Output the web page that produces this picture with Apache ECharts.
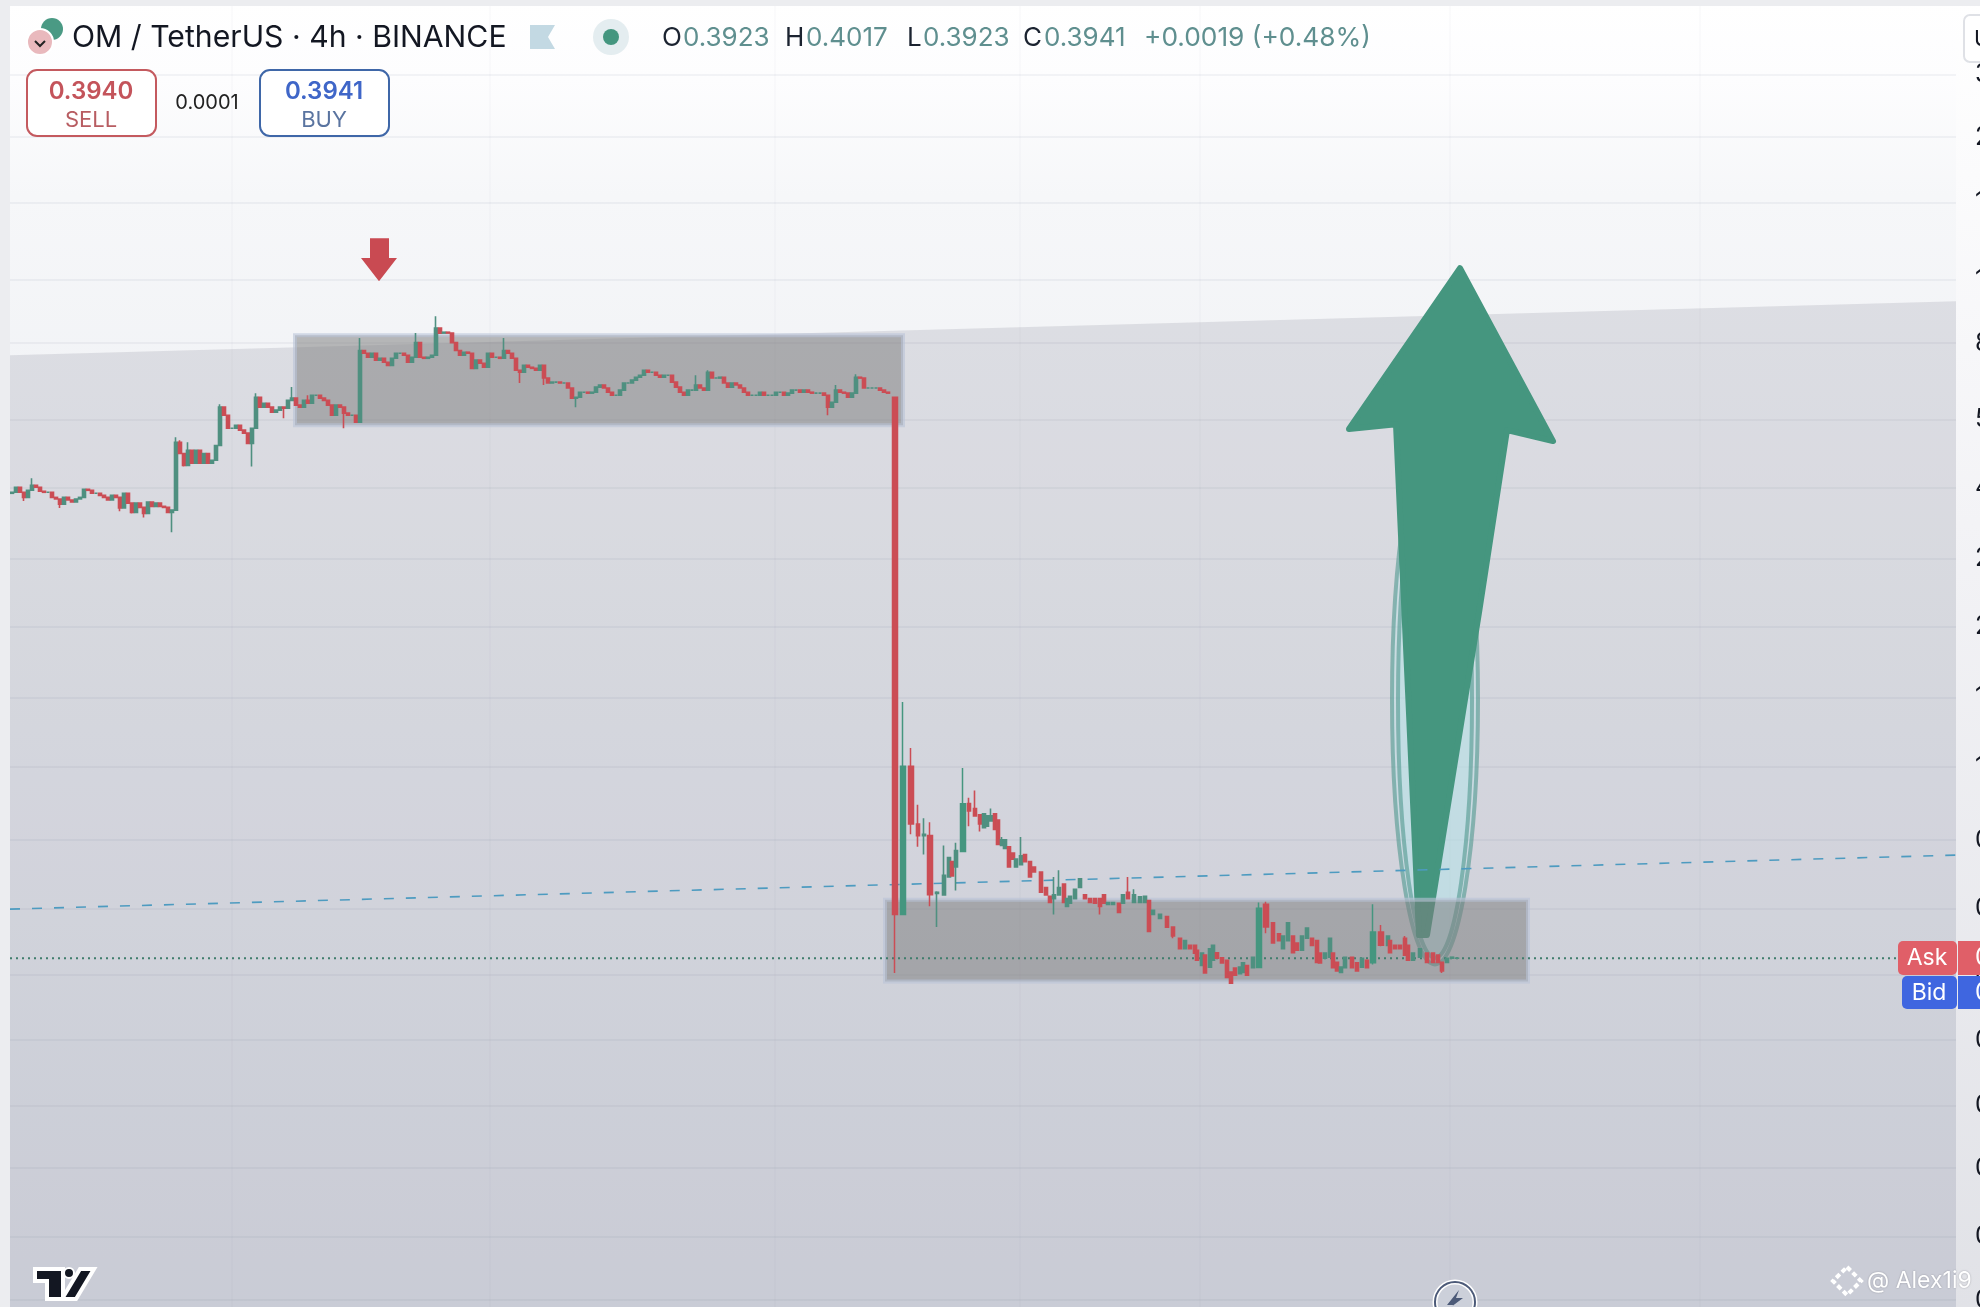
<!DOCTYPE html>
<html><head><meta charset="utf-8">
<style>html,body{margin:0;padding:0;background:#fff}#c{width:1980px;height:1307px}</style>
<script src="https://cdn.jsdelivr.net/npm/echarts@6/dist/echarts.min.js"></script>
</head><body><div id="c"></div>
<script>
// ---- values ----
const priceTicks=[31.9,23.4,16.9,11.5,8.4,5.75,4.1,2.88,2.05,1.44,1.02,0.709,0.505,0.362,0.262,0.189,0.1386,0.0988,0.0719];
const clockTicks=[232,490,775,1020,1200,1450,1700];
const firstClose=3.98;
// thin pre-crash candles, one every 4 clock units starting at 12
const thinClose=[4.00,4.10,4.00,3.90,4.04,4.14,4.10,4.02,4.00,4.00,3.90,3.87,3.77,3.90,3.85,3.81,3.87,3.90,4.06,4.04,3.98,3.98,3.94,3.90,3.85,3.94,3.90,3.70,3.98,3.79,3.62,3.79,3.71,3.60,3.81,3.73,3.79,3.73,3.71,3.62,3.66,5.13,
4.85,4.57,4.93,4.62,4.93,4.62,4.85,4.62,4.69,5.05,
6.11,5.87,5.50,5.50,5.58,5.45,5.37,5.10,5.50,6.42,6.11,6.23,6.11,5.96,6.02,6.11,6.08,6.32,6.39,6.17,6.11,6.32,6.23,6.48,6.48,6.39,6.32,6.17,5.87,6.17,6.11,5.93,5.87,5.87,5.67,8.10,7.99,7.83,7.99,7.72,7.79,7.64,7.52,7.79,7.99,7.99,7.91,7.64,7.83,8.42,7.83,7.79,7.83,7.91,9.05,8.83,8.87,8.83,8.42,8.10,7.91,8.03,7.99,7.41,7.72,7.60,7.45,7.99,7.83,7.83,7.79,8.10,7.99,7.79,7.34,7.27,7.52,7.45,7.41,7.34,7.52,7.06,6.89,6.92,6.92,6.89,6.89,6.72,6.39,6.42,6.58,6.58,6.55,6.58,6.75,6.82,6.72,6.58,6.48,6.48,6.65,6.89,6.89,6.99,7.09,7.16,7.34,7.27,7.27,7.16,7.09,7.16,7.16,6.92,6.75,6.58,6.48,6.65,6.65,6.82,6.72,6.65,7.27,7.06,7.06,7.09,6.89,6.75,6.89,6.82,6.72,6.58,6.48,6.48,6.48,6.58,6.48,6.48,6.48,6.58,6.58,6.48,6.55,6.65,6.65,6.58,6.65,6.58,6.55,6.55,6.55,6.48,6.11,6.26,6.65,6.58,6.55,6.42,6.55,7.09,7.06,6.72,6.72,6.72,6.72,6.65,6.58,6.55];
const thinHigh={32:4.29,176:5.26,180:5.18,188:5.13,220:6.20,256:6.55,292:6.75,308:6.48,360:8.62,416:8.83,436:9.6,504:8.62,696:7.16,708:7.34,836:6.82,856:7.2};
const thinLow={24:3.83,60:3.70,120:3.64,132:3.6,144:3.53,172:3.28,184:4.55,252:4.55,284:5.78,344:5.50,520:6.89,544:6.82,576:6.11,828:5.87};
// wide candles around the crash
const bigClock=[895,903,911,930,963,1259,1266,1373,1381];
const bigOpen=[6.42,0.49,1.024,0.725,0.67,0.376,0.515,0.385,0.449];
const bigClose=[0.49,1.024,0.768,0.54,0.85,0.505,0.46,0.449,0.42];
const bigLow=[0.366,0.488,0.73,0.51,0.67,0.376,0.446,0.382,0.418];
const bigHigh=[6.42,1.41,1.121,0.775,1.015,0.52,0.522,0.515,0.465];
// medium candles after the crash
const midClock=[918,924,937,944,949,952,956,969,975,980,984,987,991,995,998,1002,1005,1009,1013,1016,1021,1025,1030,1034,1041,1046,1050,1054,1059,1064,1067,1070,1075,1080,1085,1090,1095,1100,1104,1108,1113,1119,1123,1128,1134,1140,1145,1149,1153,1160,1167,1173,1180,1185,1190,1195,1197,1202,1205,1210,1213,1217,1222,1227,1231,1235,1240,1243,1247,1253,1273,1279,1283,1288,1293,1297,1302,1307,1312,1317,1320,1325,1330,1333,1337,1341,1345,1352,1357,1362,1367,1388,1390,1395,1400,1405,1408,1413,1420,1427,1433,1438,1442,1447,1452,1457];
const midOpen=[0.768,0.725,0.544,0.54,0.59,0.637,0.62,0.85,0.83,0.804,0.754,0.76,0.78,0.808,0.783,0.69,0.68,0.686,0.665,0.62,0.627,0.66,0.637,0.62,0.605,0.56,0.536,0.53,0.54,0.57,0.51,0.518,0.53,0.56,0.54,0.53,0.53,0.53,0.54,0.515,0.515,0.518,0.518,0.547,0.52,0.52,0.52,0.525,0.49,0.48,0.485,0.46,0.435,0.413,0.42,0.42,0.41,0.38,0.40,0.377,0.39,0.405,0.395,0.39,0.368,0.375,0.365,0.367,0.38,0.376,0.47,0.445,0.413,0.43,0.44,0.425,0.41,0.435,0.435,0.43,0.404,0.394,0.396,0.404,0.386,0.367,0.376,0.396,0.385,0.377,0.39,0.42,0.43,0.42,0.42,0.435,0.42,0.39,0.396,0.404,0.404,0.40,0.386,0.386,0.394,0.394];
const midClose=[0.725,0.73,0.547,0.595,0.65,0.593,0.673,0.82,0.80,0.768,0.808,0.80,0.80,0.748,0.694,0.71,0.71,0.62,0.645,0.645,0.656,0.637,0.59,0.605,0.547,0.54,0.52,0.54,0.56,0.52,0.53,0.536,0.555,0.585,0.53,0.52,0.518,0.51,0.518,0.52,0.52,0.495,0.54,0.53,0.54,0.535,0.536,0.45,0.50,0.49,0.46,0.44,0.413,0.43,0.413,0.404,0.39,0.404,0.366,0.413,0.42,0.394,0.385,0.358,0.348,0.362,0.377,0.385,0.362,0.396,0.425,0.43,0.44,0.47,0.405,0.41,0.44,0.458,0.42,0.386,0.385,0.404,0.435,0.376,0.37,0.377,0.396,0.376,0.37,0.394,0.376,0.44,0.405,0.413,0.413,0.40,0.39,0.404,0.413,0.386,0.386,0.386,0.37,0.394,0.396,0.3941];
const midHigh={918:0.845,924:0.79,937:0.55,944:0.69,956:0.70,969:0.875,975:0.907,991:0.83,1002:0.72,1021:0.72,1054:0.59,1059:0.61,1128:0.59,1134:0.555,1405:0.44};
const midLow={918:0.686,924:0.66,937:0.46,956:0.552,969:0.76,980:0.74,1054:0.49,1100:0.49,1173:0.435,1442:0.366};
// drawn annotations, in clock / price
const channelClock=[10,1956,1956,10];
const channelPrice=[7.91,10.35,0.0695,0.0695];
const upArrowClock=[1460,1553,1507,1479,1427,1419,1396,1349];
const upArrowPrice=[12.2,5.16,5.45,2.20,0.442,0.442,5.61,5.48];
const downArrowClock=[370,389,389,397,379,361,370];
const downArrowPrice=[14.15,14.15,12.83,12.83,11.43,12.83,12.83];
const zoneRows=[[295,903,8.74,5.58],[885,1528,0.527,0.351]];
const ovalRows=[[1392,1478,5.34,0.382],[1398,1472,5.1,0.395]];
const trendClock=[10,1956];
const trendPrice=[0.503,0.658];
const lastClock=[10,1897];
const lastPrice=[0.394,0.394];

// ---- build ----
const GREEN='#45967f',RED='#cb4d55',THINGREEN='#4f9080';
function thinRows(){let o=firstClose;return thinClose.map((c,i)=>{const x=12+4*i;const r=[x,o,c,thinLow[x]??Math.min(o,c),thinHigh[x]??Math.max(o,c)];o=c;return r;});}
const bigRows=bigClock.map((x,i)=>[x,bigOpen[i],bigClose[i],bigLow[i],bigHigh[i]]);
const midRows=midClock.map((x,i)=>[x,midOpen[i],midClose[i],midLow[x]??Math.min(midOpen[i],midClose[i]),midHigh[x]??Math.max(midOpen[i],midClose[i])]);
function polySeries(name,xs,ys,z,style){return{type:'custom',name,z,silent:true,clip:true,data:xs.map((x,i)=>[x,ys[i]]),
  renderItem(p,api){if(p.dataIndex!==0)return null;return{type:'polygon',shape:{points:xs.map((x,i)=>api.coord([x,ys[i]]))},style};}};}
function candle(name,rows,w,bw,gc,rc,z){return{type:'candlestick',name,z,barWidth:w,data:rows,silent:true,encode:{x:0,y:[1,2,3,4]},itemStyle:{color:gc,color0:rc,borderColor:gc,borderColor0:rc,borderWidth:bw}};}
const chart=echarts.init(document.getElementById('c'),null,{width:1980,height:1307});
const vGrad=(stops)=>({type:'linear',x:0,y:0,x2:0,y2:1,colorStops:stops});
const F='Inter, sans-serif';
function t(x,y,text,size,fill,extra){return{type:'text',z:100,x,y,style:Object.assign({text,fontFamily:F,fontSize:size,fill,textVerticalAlign:'middle',verticalAlign:'middle'},extra||{})};}
function r(x,y,w,h,fill,extra,rad){return{type:'rect',z:90,shape:{x,y,width:w,height:h,r:rad||0},style:Object.assign({fill},extra||{})};}
chart.setOption({
 animation:false,
 backgroundColor:vGrad([{offset:0,color:'#ffffff'},{offset:.4,color:'#f3f3f6'},{offset:1,color:'#e1e2e7'}]),
 grid:{left:10,right:24,top:0,bottom:0,outerBoundsMode:'none',show:true,borderWidth:0,backgroundColor:vGrad([{offset:0,color:'#ffffff'},{offset:.06,color:'#fdfdfe'},{offset:.15,color:'#f6f7f9'},{offset:1,color:'#dde0e8'}])},
 xAxis:{type:'value',min:10,max:1956,axisLine:{show:false},axisLabel:{show:false},axisTick:{show:false,customValues:clockTicks},splitLine:{show:true,lineStyle:{color:'rgba(120,130,150,.03)',width:2}}},
 yAxis:{type:'log',logBase:10,min:0.0695,max:46.3,position:'right',axisLine:{show:false},axisTick:{show:false,customValues:priceTicks},
  splitLine:{show:true,lineStyle:{color:'rgba(120,130,150,.08)',width:2}},
  axisLabel:{customValues:priceTicks,inside:false,margin:19,align:'left',color:'#131722',fontSize:25,fontFamily:F,formatter:v=>String(v)[0]}},
 series:[
  polySeries('channel',channelClock,channelPrice,1,{fill:'rgba(70,70,90,.13)'}),
  {type:'custom',name:'oval',z:2,silent:true,clip:true,data:ovalRows,renderItem(p,api){const v=[0,1,2,3].map(i=>api.value(i));const a=api.coord([v[0],v[2]]),b=api.coord([v[1],v[3]]);
    return{type:'ellipse',shape:{cx:(a[0]+b[0])/2,cy:(a[1]+b[1])/2,rx:(b[0]-a[0])/2,ry:(b[1]-a[1])/2},style:{fill:'rgba(185,226,232,.38)',stroke:'rgba(70,145,135,.55)',lineWidth:4}};}},
  polySeries('target arrow',upArrowClock,upArrowPrice,3,{fill:GREEN,stroke:GREEN,lineWidth:6,lineJoin:'round'}),
  {type:'custom',name:'zones',z:4,silent:true,clip:true,data:zoneRows,renderItem(p,api){const a=api.coord([api.value(0),api.value(2)]),b=api.coord([api.value(1),api.value(3)]);
    return{type:'rect',shape:{x:a[0],y:a[1],width:b[0]-a[0],height:b[1]-a[1]},style:{fill:'rgba(125,125,125,.52)',stroke:'rgba(185,195,215,.6)',lineWidth:4}};}},
  {type:'line',name:'trend',z:4,silent:true,symbol:'none',data:trendClock.map((x,i)=>[x,trendPrice[i]]),lineStyle:{color:'#4d9bc0',width:1.6,type:[10,12]}},
  {type:'line',name:'last',z:4,silent:true,symbol:'none',data:lastClock.map((x,i)=>[x,lastPrice[i]]),lineStyle:{color:'#3f7d6c',width:2,type:[2,4]}},
  candle('OM thin',thinRows(),3,1.6,THINGREEN,RED,5),
  candle('OM mid',midRows,3,1.6,THINGREEN,RED,5),
  candle('OM big',bigRows,6,1.5,GREEN,RED,6),
  polySeries('sell arrow',downArrowClock,downArrowPrice,7,{fill:'#c94a52'})
 ],
 graphic:[
  r(0,0,10,1307,'#ecedf0'),r(0,0,1980,6,'#ecedf0'),
  {type:'circle',z:95,shape:{cx:52,cy:29,r:11},style:{fill:'#4a9a84'}},
  {type:'circle',z:96,shape:{cx:40,cy:42,r:13},style:{fill:'#e9b9bd',stroke:'#fff',lineWidth:2}},
  {type:'polyline',z:97,shape:{points:[[35,41],[40,46],[45,41]]},style:{stroke:'#222',fill:null,lineWidth:2}},
  t(72,38,'OM / TetherUS · 4h · BINANCE',30.2,'#131722'),
  {type:'polygon',z:95,shape:{points:[[530,25],[555,25],[548,37],[555,49],[530,49]]},style:{fill:'#c3d9e3'}},
  {type:'circle',z:95,shape:{cx:611,cy:37,r:18},style:{fill:'#e4edf0'}},
  {type:'circle',z:96,shape:{cx:611,cy:37,r:8},style:{fill:'#44967f'}},
  t(662,38,'O',26,'#1b2330'),t(683,38,'0.3923',26,'#5f8f8f'),
  t(785,38,'H',26,'#1b2330'),t(806,38,'0.4017',26,'#5f8f8f'),
  t(907,38,'L',26,'#1b2330'),t(923,38,'0.3923',26,'#5f8f8f'),
  t(1023,38,'C',26,'#1b2330'),t(1044,38,'0.3941',26,'#5f8f8f'),
  t(1144,38,'+0.0019 (+0.48%)',26.3,'#5f8f8f'),
  r(27,70,129,66,'#fff',{stroke:'#c45a5f',lineWidth:2},10),
  t(91,92,'0.3940',24,'#c4545b',{align:'center',textAlign:'center',fontWeight:600}),
  t(91,120,'SELL',22,'#b85d62',{align:'center',textAlign:'center'}),
  t(207,103,'0.0001',20,'#222',{align:'center',textAlign:'center'}),
  r(260,70,129,66,'#fff',{stroke:'#3f67a8',lineWidth:2},10),
  t(324,92,'0.3941',24,'#3f66c8',{align:'center',textAlign:'center',fontWeight:600}),
  t(324,120,'BUY',22,'#5a74a0',{align:'center',textAlign:'center'}),
  r(1964,15,30,47,'#fff',{stroke:'#dfe1e6',lineWidth:2},6),
  t(1974,39,'U',22,'#131722'),
  r(1898,941,59,34,'#e05f68',null,5),r(1958,941,22,34,'#e05f68'),
  t(1927,958,'Ask',23,'#fff',{align:'center',textAlign:'center'}),t(1975,958,'0',24,'#fff'),
  r(1902,976,55,33,'#3f66e0',null,5),r(1958,976,22,33,'#3f66e0'),
  t(1929,993,'Bid',23,'#fff',{align:'center',textAlign:'center'}),t(1975,993,'0',24,'#fff'),
  {type:'polygon',z:94,shape:{points:[[35,1269],[63,1269],[63,1299],[47,1299],[47,1281],[35,1281]]},style:{fill:'#131722',stroke:'#fff',lineWidth:4,lineJoin:'miter'}},
  {type:'polygon',z:94,shape:{points:[[80,1269],[94,1269],[76,1299],[62,1299]]},style:{fill:'#131722',stroke:'#fff',lineWidth:4}},
  {type:'circle',z:94,shape:{cx:69,cy:1273,r:5},style:{fill:'#131722',stroke:'#fff',lineWidth:2}},
  {type:'circle',z:94,shape:{cx:1455,cy:1302,r:20},style:{fill:'#ccd0da',stroke:'#fff',lineWidth:5}},
  {type:'circle',z:95,shape:{cx:1455,cy:1302,r:20},style:{fill:'none',stroke:'#4c5a78',lineWidth:2}},
  {type:'polygon',z:96,shape:{points:[[1459,1290],[1447,1305],[1454,1305],[1451,1307],[1463,1298],[1456,1298]]},style:{fill:'#4c5a78'}},
  {type:'polygon',z:95,shape:{points:[[1847,1267],[1861,1281],[1847,1295],[1833,1281]]},style:{fill:'none',stroke:'#fff',lineWidth:4,lineDash:[5,3]}},
  t(1867,1281,'@ Alex1i9',23,'#ffffff',{textShadowColor:'rgba(90,90,100,.5)',textShadowBlur:2})
 ]
});
</script></body></html>
